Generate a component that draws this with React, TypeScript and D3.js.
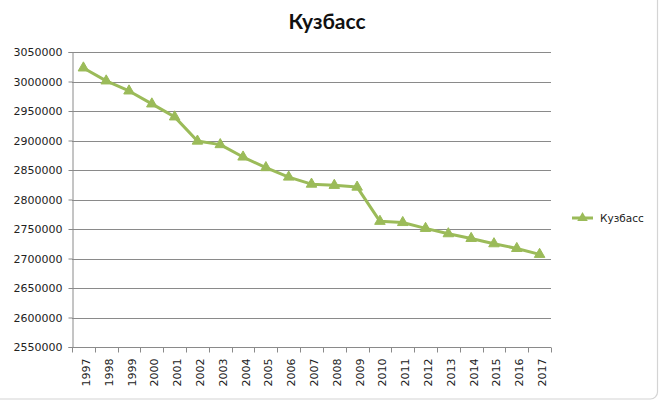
import * as d3 from "d3";
import { useEffect, useRef } from "react";

const years = [
  "1997", "1998", "1999", "2000", "2001", "2002", "2003", "2004", "2005", "2006", "2007",
  "2008", "2009", "2010", "2011", "2012", "2013", "2014", "2015", "2016", "2017",
];
const kuzbass = [
  3023000, 3001000, 2984000, 2962000, 2940000, 2899000, 2893000, 2872000, 2854000, 2838000,
  2826000, 2824000, 2821000, 2763000, 2761000, 2751000, 2742000, 2734000, 2725000, 2717000,
  2707000,
];
const yTicks = [
  2550000, 2600000, 2650000, 2700000, 2750000, 2800000, 2850000, 2900000, 2950000, 3000000,
  3050000,
];
const seriesName = "Кузбасс";
const title = "Кузбасс";

const width = 659;
const height = 401;
const margin = { top: 52, right: 108, bottom: 54, left: 72 };
const green = "#9bbb59";
const font = "'DejaVu Sans', Verdana, sans-serif";
const titleFont = "Lato, 'Open Sans', sans-serif";

function drawChart(node: SVGSVGElement) {
  const svg = d3.select(node);
  svg.selectAll("*").remove();

  const x = d3
    .scaleBand()
    .domain(years)
    .range([margin.left, width - margin.right]);
  const y = d3
    .scaleLinear()
    .domain([2550000, 3050000])
    .range([height - margin.bottom, margin.top]);

  // chart border
  svg
    .append("rect")
    .attr("x", -10)
    .attr("y", -10)
    .attr("width", 667.5)
    .attr("height", 409)
    .attr("rx", 7)
    .attr("fill", "white")
    .attr("stroke", "#d4d4d4")
    .attr("stroke-width", 1.2);

  // grid lines
  svg
    .append("g")
    .selectAll("line")
    .data(yTicks.slice(1))
    .join("line")
    .attr("x1", margin.left)
    .attr("x2", width - margin.right)
    .attr("y1", (d) => Math.round(y(d)) + 0.5)
    .attr("y2", (d) => Math.round(y(d)) + 0.5)
    .attr("stroke", "#8a8a8a")
    .attr("stroke-width", 1);

  // y axis
  const yAxis = svg
    .append("g")
    .attr("transform", `translate(${margin.left + 0.5},0)`)
    .call(d3.axisLeft(y).tickValues(yTicks).tickSize(4).tickPadding(6).tickFormat(d3.format("d")));
  yAxis.select(".domain").attr("stroke", "#8a8a8a");
  yAxis.selectAll("line").attr("stroke", "#8a8a8a");
  yAxis
    .selectAll("text")
    .attr("fill", "#222")
    .style("font-family", font)
    .style("font-size", "11px");

  // x axis (ticks between categories)
  const xAxisG = svg
    .append("g")
    .attr("transform", `translate(0,${Math.round(y(2550000)) + 0.5})`);
  xAxisG
    .append("line")
    .attr("x1", margin.left)
    .attr("x2", width - margin.right)
    .attr("stroke", "#8a8a8a");
  xAxisG
    .selectAll("line.tick")
    .data(years.concat(["end"]))
    .join("line")
    .classed("tick", true)
    .attr("x1", (d, i) => Math.round(margin.left + i * x.bandwidth()) + 0.5)
    .attr("x2", (d, i) => Math.round(margin.left + i * x.bandwidth()) + 0.5)
    .attr("y1", 0)
    .attr("y2", 5)
    .attr("stroke", "#8a8a8a");
  xAxisG
    .selectAll("text")
    .data(years)
    .join("text")
    .attr("transform", (d) => `translate(${(x(d) as number) + x.bandwidth() / 2 + 6.5},11) rotate(-90)`)
    .attr("text-anchor", "end")
    .attr("fill", "#222")
    .style("font-family", font)
    .style("font-size", "11px")
    .text((d) => d);

  // series line
  const line = d3
    .line<number>()
    .x((d, i) => (x(years[i]) as number) + x.bandwidth() / 2)
    .y((d) => y(d));
  svg
    .append("path")
    .datum(kuzbass)
    .attr("d", line)
    .attr("fill", "none")
    .attr("stroke", green)
    .attr("stroke-width", 3)
    .attr("stroke-linejoin", "round");

  const tri = d3.symbol().type(d3.symbolTriangle).size(48);
  svg
    .append("g")
    .selectAll("path")
    .data(kuzbass)
    .join("path")
    .attr("d", tri)
    .attr("transform", (d, i) => `translate(${(x(years[i]) as number) + x.bandwidth() / 2},${y(d)})`)
    .attr("fill", green)
    .attr("stroke", green)
    .attr("stroke-width", 1);

  // legend
  const legend = svg.append("g").attr("transform", "translate(572,218)");
  legend
    .append("line")
    .attr("x1", 0)
    .attr("x2", 21)
    .attr("stroke", green)
    .attr("stroke-width", 3);
  legend
    .append("path")
    .attr("d", tri)
    .attr("transform", "translate(10.5,0)")
    .attr("fill", green);
  legend
    .append("text")
    .attr("x", 28)
    .attr("y", 4)
    .attr("fill", "#222")
    .style("font-family", font)
    .style("font-size", "10.5px")
    .text(seriesName);

  // title
  svg
    .append("text")
    .attr("x", 327)
    .attr("y", 29)
    .attr("text-anchor", "middle")
    .attr("fill", "#111")
    .style("font-family", titleFont)
    .style("font-weight", "bold")
    .style("font-size", "21px")
    .text(title);
}

export default function App() {
  const ref = useRef<SVGSVGElement>(null);

  useEffect(() => {
    if (ref.current) drawChart(ref.current);
  }, []);

  return (
    <svg
      ref={ref}
      width={width}
      height={height}
      style={{ position: "absolute", left: 0, top: 0, background: "white" }}
    />
  );
}
